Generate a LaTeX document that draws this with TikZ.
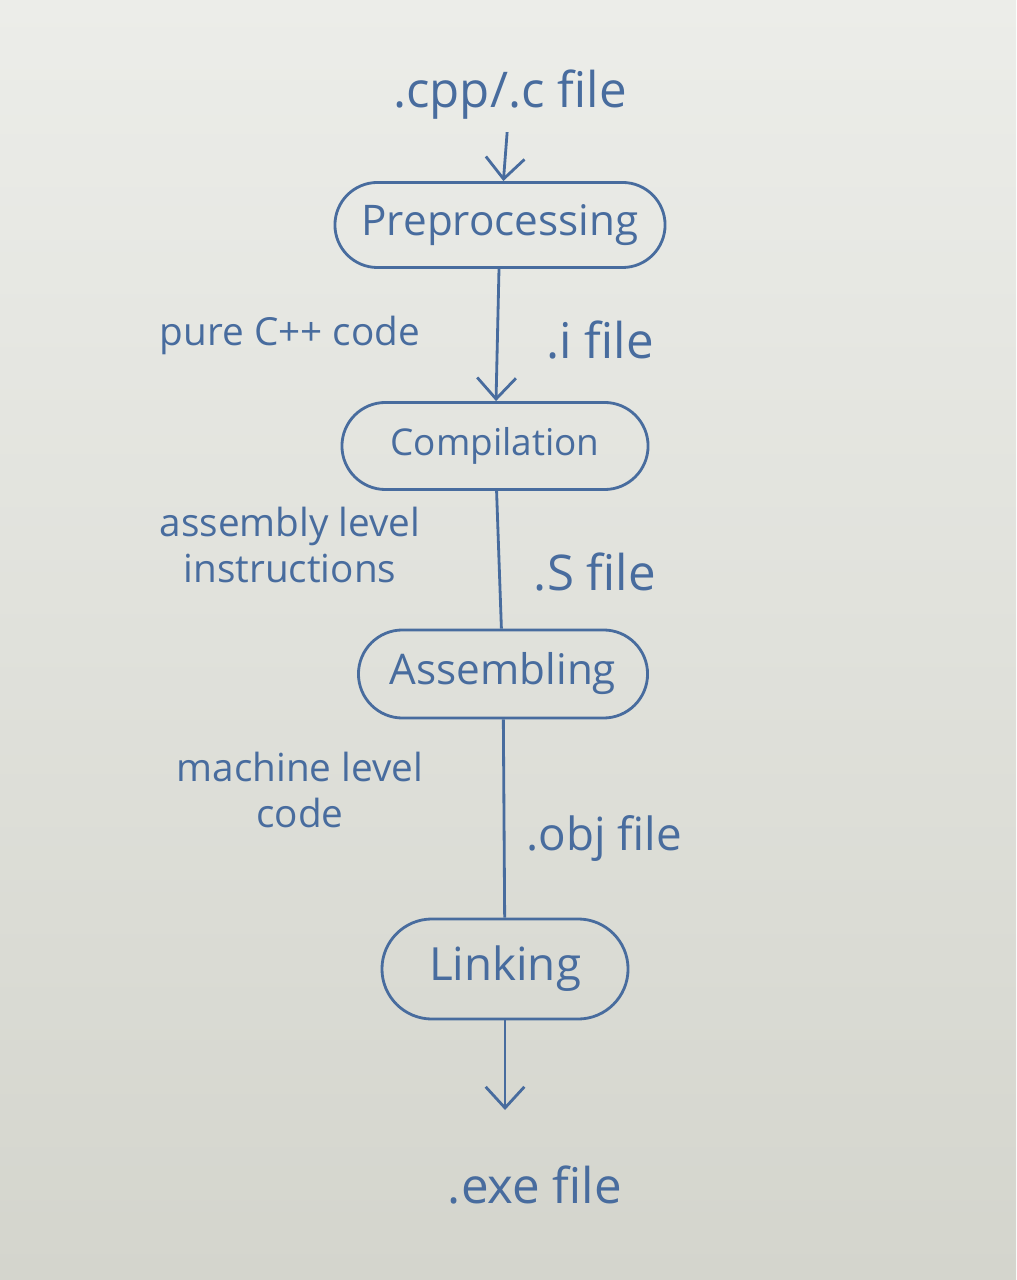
\documentclass[tikz,border=0pt]{standalone}
\usepackage{fontspec}
\setmainfont{Open Sans}
\usetikzlibrary{shapes.misc,arrows.meta}
\definecolor{ink}{RGB}{72,108,158}
\definecolor{papertop}{RGB}{236,237,233}
\definecolor{paperbot}{RGB}{212,213,205}
\tikzstyle{stage} = [draw=ink, line width=0.8pt, rounded rectangle, inner sep=2pt, text=ink, font={\fontsize{12}{14}\selectfont}]
\tikzstyle{note} = [text=ink, align=center, font={\fontsize{11}{13}\selectfont}]
\tikzstyle{big} = [font={\fontsize{14}{16}\selectfont}]
\tikzstyle{flow} = [draw=ink, line width=0.8pt, >={Straight Barb[length=6pt,width=11pt]}]

\begin{document}
\begin{tikzpicture}[x=0.01cm,y=-0.01cm]
    \shade[top color=papertop,bottom color=paperbot](0,0) rectangle (1016,1280);
    \useasboundingbox (0,0) rectangle (1016,1280);
    \node[note,big](src) at (510,95){.cpp/.c file};
    \node[stage,minimum width=3.44cm,minimum height=0.85cm](pre) at (500,225){Preprocessing};
    \node[stage,minimum width=3.2cm,minimum height=0.87cm,font={\fontsize{10.5}{12}\selectfont}](comp) at (495,446){Compilation};
    \node[stage,minimum width=3.03cm,minimum height=0.88cm](asm) at (503,674){Assembling};
    \node[stage,minimum width=2.6cm,minimum height=1cm,font={\fontsize{13}{15}\selectfont}](link) at (505,969){Linking};
    \node[note,big](exe) at (535,1185){.exe file};
    \coordinate (out) at (505,1110);
    \node[note](cpp) at (290,335){pure C++ code};
    \node[note,big](ifile) at (600,340){.i file};
    \node[note](ins) at (290,545){assembly level\\instructions};
    \node[note,big](sfile) at (595,572){.S file};
    \node[note](mach) at (300,790){machine level\\code};
    \node[note,font={\fontsize{13}{15}\selectfont}](obj) at (604,838){.obj file};
    \draw[flow,->](src)--(pre);
    \draw[flow,->](pre)--(comp);
    \draw[flow](comp)--(asm);
    \draw[flow](asm)--(link);
    \draw[flow,->](link.south)--(out);
\end{tikzpicture}
\end{document}
